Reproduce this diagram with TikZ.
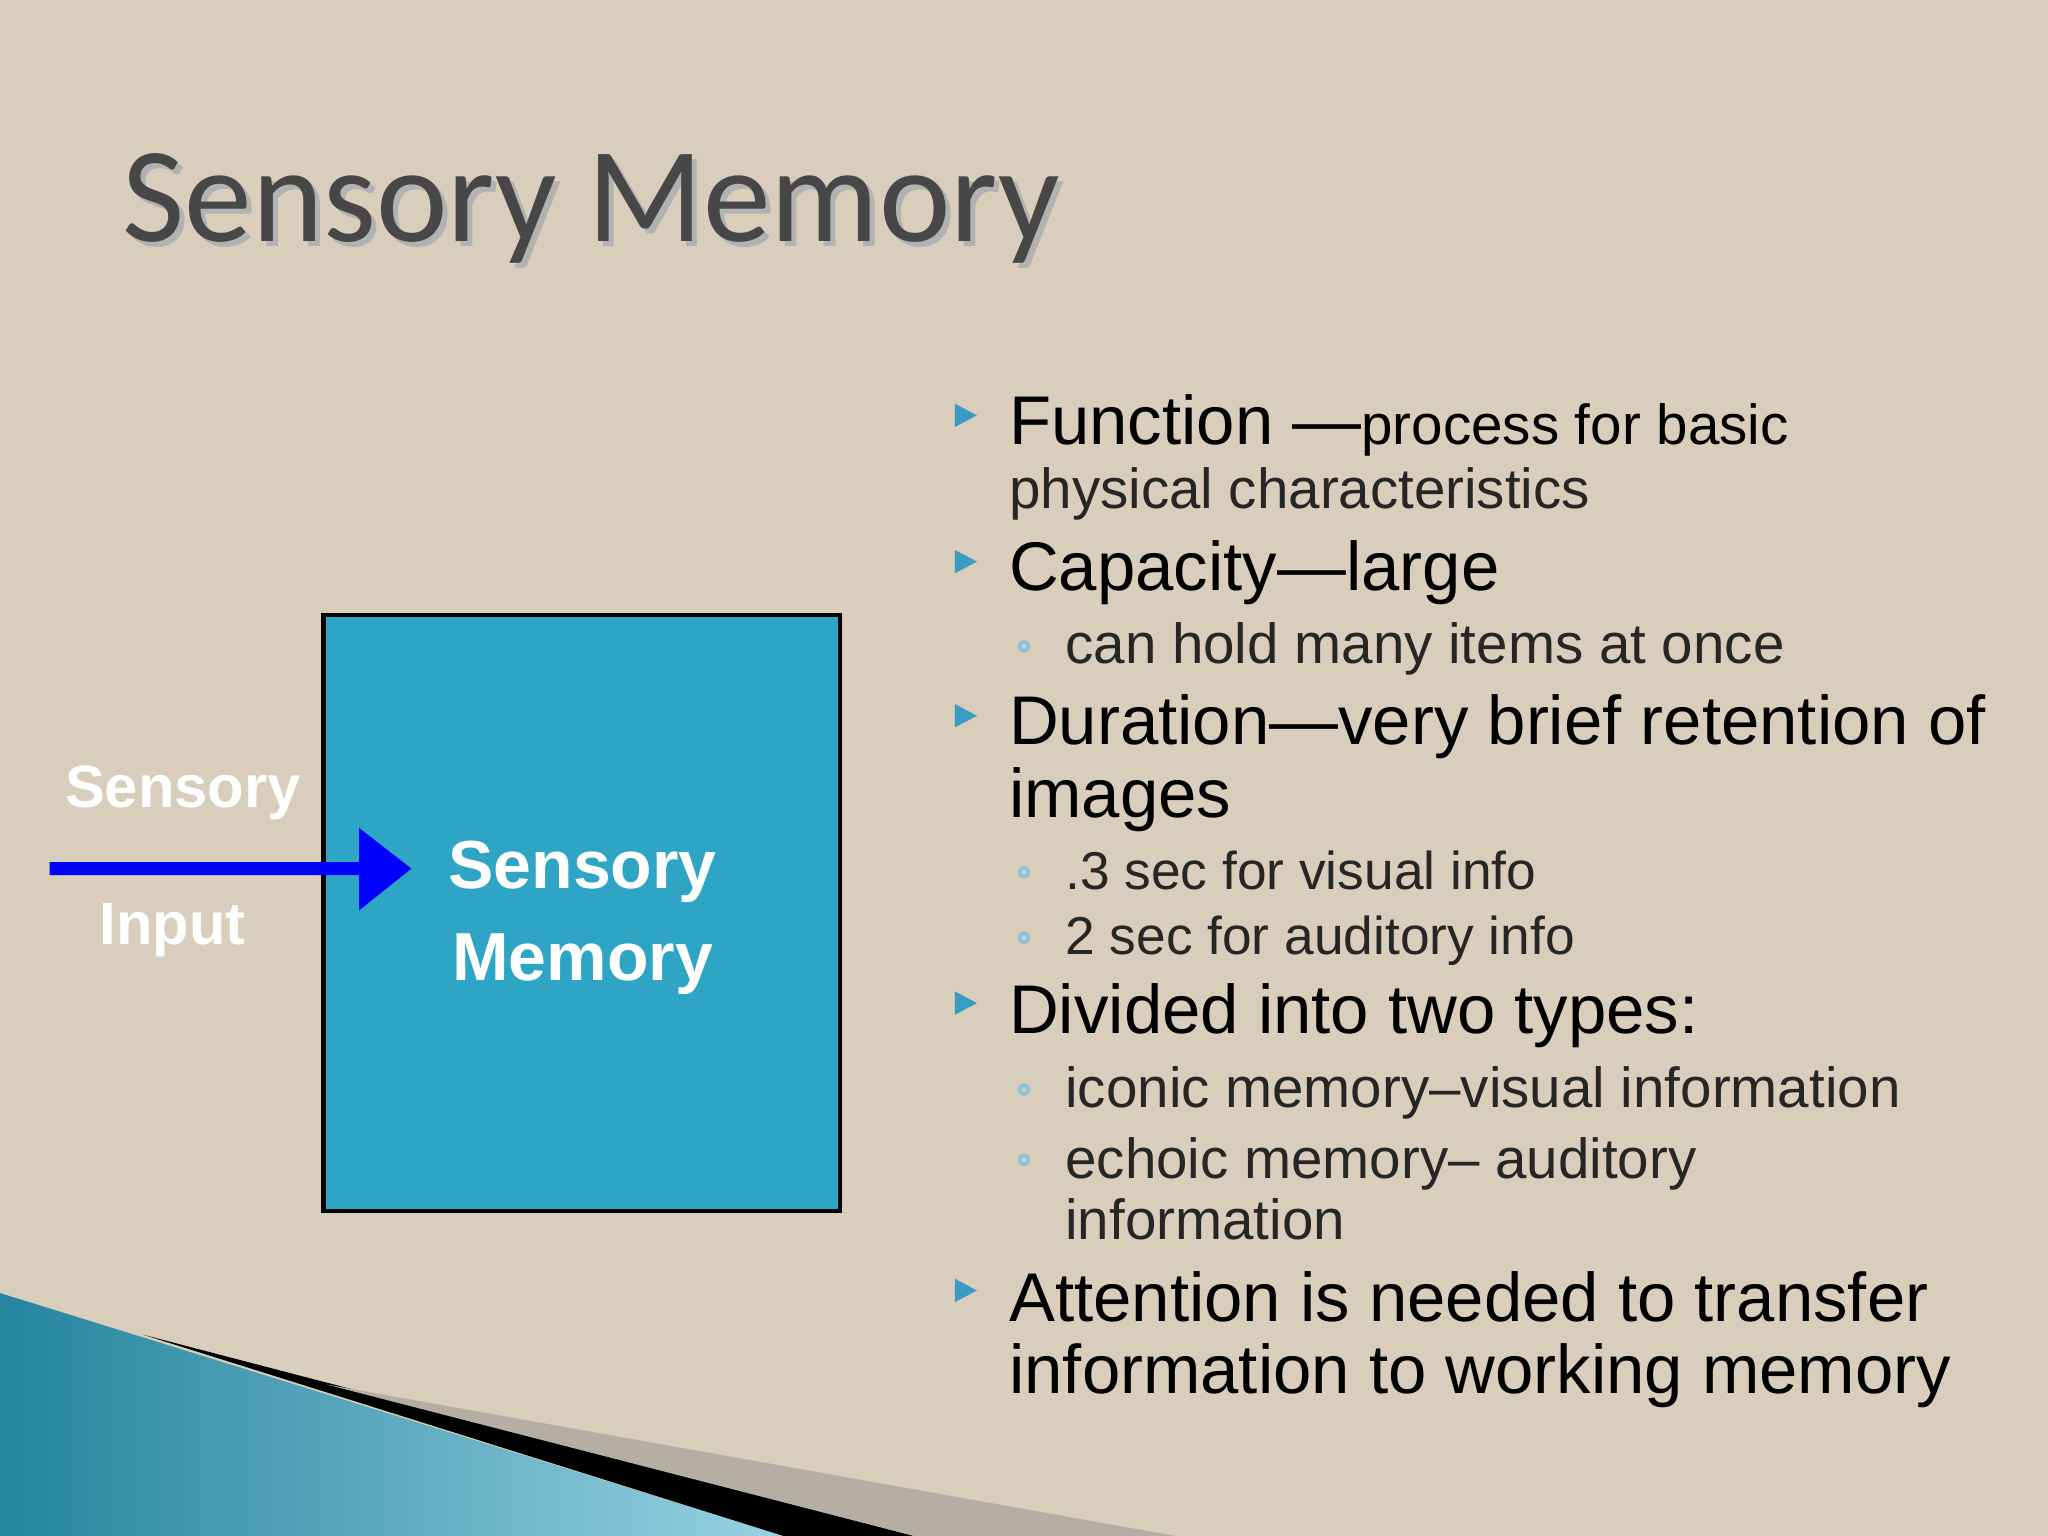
\documentclass[tikz,border=0pt]{standalone}
\usepackage{fontspec}
\setmainfont{Liberation Sans}
\newfontfamily\titlefont{Carlito}
\definecolor{bg}{HTML}{D8CEBB}
\definecolor{boxc}{HTML}{2EA5C5}
\definecolor{bul}{HTML}{3A9CC4}
\begin{document}
\begin{tikzpicture}[x=0.01cm,y=-0.01cm,
  big/.style={anchor=base west,font=\fontsize{15.0}{17}\selectfont,text=black,inner sep=0},
  mid/.style={anchor=base west,font=\fontsize{12.3}{14}\selectfont,text=black!85,inner sep=0},
  wlab/.style={font=\bfseries\fontsize{13}{15}\selectfont,text=white,inner sep=0},
  ttl/.style={anchor=base west,inner sep=0,font=\titlefont\fontsize{29.5}{32}\selectfont}]
\fill[bg] (0,0) rectangle (1568,1176);
\useasboundingbox (0,0) rectangle (1568,1176);
% bottom decoration
\shade[left color=boxc!80!black,right color=boxc!50!white] (0,990) -- (600,1176) -- (0,1176) -- cycle;
\fill[black] (110,1022) -- (700,1176) -- (600,1176) -- cycle;
\fill[gray!40!bg] (700,1176) -- (250,1060) -- (900,1176) -- cycle;
% title
\node[ttl,text=black!30] (tshadow) at (97,189) {Sensory Memory};
\node[ttl,text=black!72] (title) at (93,185) {Sensory Memory};
% box
\node[draw=black,fill=boxc,line width=1pt,minimum width=3.95cm,minimum height=4.56cm,inner sep=0] (box) at (445.5,699) {};
\node[wlab,align=center,font=\bfseries\fontsize{14.8}{18}\selectfont] (bt) at (446,703) {Sensory\\[2pt]Memory};
\fill[blue] (38,660) -- (275,660) -- (275,634) -- (315,665) -- (275,697) -- (275,670) -- (38,670) -- cycle;
\node[wlab] (s1) at (140,607) {Sensory};
\node[wlab] (s2) at (132,712) {Input};
% bullets
\foreach \y in {318,430,548,768,988} \fill[bul] (731,\y-9) -- (748,\y) -- (731,\y+9) -- cycle;
\foreach \y in {495,668,718,834,888} \draw[bul!60,line width=0.8pt] (784,\y) circle (3.5);
\node[big] (b1) at (772,340) {Function ---{\fontsize{12.3}{14}\selectfont process for basic}};
\node[mid] (b1b) at (772,389) {physical characteristics};
\node[big] (b2) at (772,452) {Capacity---large};
\node[mid] (c1) at (815,508) {can hold many items at once};
\node[big] (b3) at (772,570) {Duration---very brief retention of};
\node[big] (b3b) at (772,626) {images};
\node[mid,font=\fontsize{11.6}{14}\selectfont] (c2) at (815,681) {.3 sec for visual info};
\node[mid,font=\fontsize{11.6}{14}\selectfont] (c3) at (815,731) {2 sec for auditory info};
\node[big] (b4) at (772,791) {Divided into two types:};
\node[mid] (c4) at (815,848) {iconic memory--visual information};
\node[mid] (c5) at (815,902) {echoic memory-- auditory};
\node[mid] (c5b) at (815,949) {information};
\node[big] (b5) at (772,1012) {Attention is needed to transfer};
\node[big] (b5b) at (772,1067) {information to working memory};
\end{tikzpicture}
\end{document}
